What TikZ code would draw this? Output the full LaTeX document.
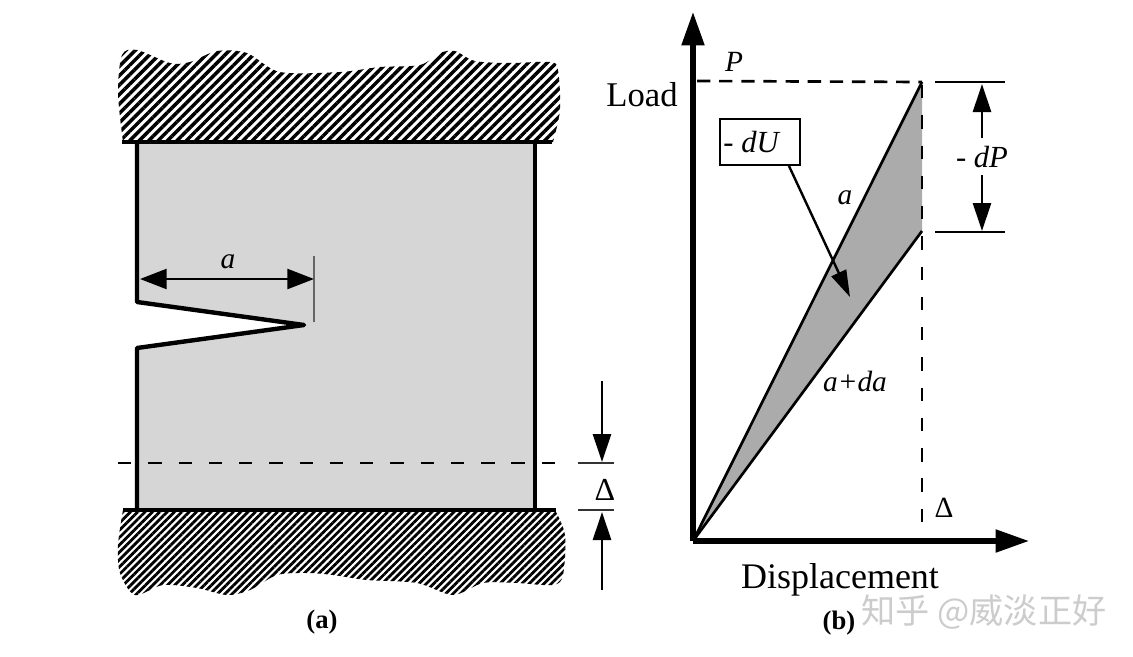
\documentclass[tikz,border=0pt]{standalone}
\usepackage{fontspec}
\setmainfont{Liberation Serif}
\newfontfamily\cjkwm{Noto Sans CJK SC}
\usetikzlibrary{patterns.meta,arrows.meta}
\definecolor{platec}{gray}{0.84}
\definecolor{wedgec}{gray}{0.67}
\definecolor{wmc}{gray}{0.80}
\tikzset{
  x=0.75pt,y=-0.75pt,
  wall/.style={line width=3.3pt,line join=round},
  hatchtop/.style={draw=none,pattern={Lines[angle=45,distance=5pt,line width=2.6pt]}},
  hatchbot/.style={draw=none,pattern={Lines[angle=45,distance=3.9pt,line width=2.1pt]}},
  axisline/.style={line width=3.8pt,-{Triangle[length=25pt,width=16.5pt]}},
  dimarrow/.style={line width=2pt,-{Triangle[length=21pt,width=13.5pt]}},
  thinline/.style={line width=1pt},
  dashtop/.style={line width=2pt,dash pattern=on 10pt off 6.6pt},
  dashlong/.style={line width=2pt,dash pattern=on 10pt off 12.7pt},
  lbl/.style={inner sep=0pt,font=\fontsize{26pt}{26pt}\selectfont},
  ilbl/.style={inner sep=0pt,font=\fontsize{22pt}{22pt}\itshape\selectfont},
  capt/.style={inner sep=0pt,font=\fontsize{20pt}{20pt}\bfseries\selectfont},
}
\begin{document}
\begin{tikzpicture}
\useasboundingbox (0,0) rectangle (1133,657);
% top hatch
\draw[hatchtop] plot[smooth,tension=0.5] coordinates {(123,142) (118,93) (122,55) (137,50) (170,63) (190,62) (217,51) (247,53) (280,72) (340,72) (380,67) (420,65) (440,53) (455,51) (475,61) (510,63) (550,62) (558,70) (560,110) (553,142)} -- cycle;
% bottom hatch
\draw[hatchbot] plot[smooth,tension=0.5] coordinates {(123,510) (118,545) (120,573) (135,595) (163,585) (197,588) (227,595) (250,590) (277,575) (307,573) (333,575) (367,580) (417,583) (453,595) (483,583) (517,583) (553,585) (563,575) (565,535) (555,510)} -- cycle;
% plate
\fill[platec] (137,143) -- (535,143) -- (535,510) -- (137,510) -- (137,348) -- (305,325) -- (137,302) -- cycle;
\coordinate (tl) at (137,143);
\coordinate (tr) at (535,143);
\coordinate (bl) at (137,510);
\coordinate (br) at (535,510);
\coordinate (c1) at (137,302);
\coordinate (c2) at (304,325);
\coordinate (c3) at (137,348);
\draw[wall] (bl) -- (c3) -- (c2) -- (c1) -- (tl);
\draw[wall] (tr) -- (br);
\draw[line width=3.6pt] (122,142) -- (552,142);
\draw[line width=3.2pt] (123,510) -- (556,510);
% crack dimension
\coordinate (ca) at (140,279);
\coordinate (cb) at (314,279);
\draw[thinline,black!60] (314,256) -- (314,322);
\draw[line width=1.8pt,{Triangle[length=20pt,width=15pt]}-{Triangle[length=20pt,width=15pt]}] (ca) -- (cb);
\node[ilbl] (la) at (228,262) {a};
% displacement markers
\coordinate (dl) at (118,463);
\coordinate (dr) at (564,463);
\draw[dashlong] (dl) -- (dr);
\draw[thinline,black!80] (578,463) -- (614,463);
\draw[thinline,black!80] (578,510) -- (614,510);
\coordinate (m1) at (602,381);
\coordinate (m2) at (602,462);
\coordinate (m3) at (602,590);
\coordinate (m4) at (602,512);
\draw[dimarrow] (m1) -- (m2);
\draw[dimarrow] (m3) -- (m4);
\node[lbl,font=\fontsize{24pt}{24pt}\selectfont] (dla) at (605,490) {Δ};
\node[capt] (capa) at (322,622) {(a)};
% plot
\coordinate (o) at (693,541);
\coordinate (ty) at (693,12);
\coordinate (tx) at (1029,541);
\coordinate (pk) at (922,82);
\coordinate (lw) at (922,231);
\fill[wedgec] (o) -- (pk) -- (lw) -- cycle;
\draw[line width=2pt] (o) -- (pk);
\draw[line width=2pt] (o) -- (lw);
\draw[dashtop] (697,81) -- (pk);
\draw[dashlong] (922,85) -- (922,531);
\draw[axisline] (o) -- (ty);
\draw[axisline] (o) -- (tx);
\draw[thinline] (935,82) -- (1005,82);
\draw[thinline] (935,232) -- (1005,232);
\node[ilbl] (lp) at (734,62) {P};
\node[lbl] (load) at (642,95) {Load};
\node[lbl,font=\fontsize{27pt}{27pt}\selectfont] (disp) at (840,580) {Displacement};
\node[lbl,font=\fontsize{22pt}{22pt}\selectfont] (dlb) at (944,508) {Δ};
\node[ilbl] (la2) at (845,198) {a};
\node[ilbl] (lada) at (855,381) {a+da};
\node[ilbl,font=\fontsize{23pt}{23pt}\itshape\selectfont] (ldp) at (982,157) {{\upshape -} dP};
\draw[dimarrow] (982,138) -- (982,84);
\draw[dimarrow] (982,175) -- (982,231);
\node[draw,line width=2pt,fill=white,minimum width=60pt,minimum height=34.5pt,inner sep=0pt,font=\fontsize{23pt}{23pt}\selectfont] (du) at (760,142) {\hspace*{-12pt}\raisebox{-4pt}{- \textit{dU}}};
\coordinate (dut) at (850,297);
\draw[line width=1.8pt,-{Triangle[length=20pt,width=12pt]}] (789,166) -- (dut);
\node[capt] (capb) at (839,623) {(b)};
\node[inner sep=0pt,text=wmc,font=\fontsize{25.6pt}{25.6pt}\cjkwm\selectfont] (wm) at (984,612) {知乎 @威淡正好};
\end{tikzpicture}
\end{document}
